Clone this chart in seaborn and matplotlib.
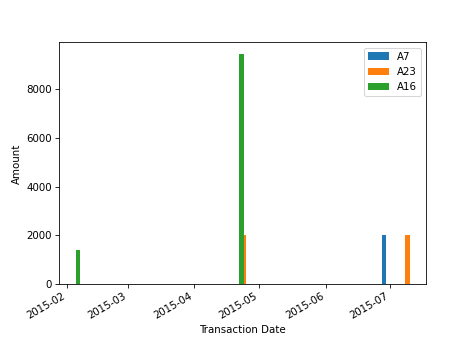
import pandas as pd
import seaborn as sns
import numpy as np
import matplotlib
matplotlib.use('Agg')
import matplotlib.pyplot as plt
import matplotlib.dates as mdates

# data
series = ['A7', 'A23', 'A16']
a7_dates = ['2015-06-27']
a7_amounts = [2000]
a23_dates = ['2015-04-23', '2015-07-08']
a23_amounts = [2000, 2000]
a16_dates = ['2015-02-05', '2015-04-22']
a16_amounts = [1400, 9450]

# plain matplotlib look, seaborn only for the palette
sns.reset_defaults()
plt.rcParams['font.family'] = ['DejaVu Sans']
colors = sns.color_palette('tab10', 3)

fig, ax = plt.subplots(figsize=(6.4, 4.8), dpi=74)
for name, d, a, c in zip(series,
                         [a7_dates, a23_dates, a16_dates],
                         [a7_amounts, a23_amounts, a16_amounts],
                         colors):
    ax.bar(pd.to_datetime(d), a, width=2, align='edge', color=c,
           linewidth=0, label=name)

ax.xaxis.set_major_locator(mdates.MonthLocator())
ax.xaxis.set_major_formatter(mdates.DateFormatter('%Y-%m'))
ax.set_xlabel('Transaction Date')
ax.set_ylabel('Amount')
ax.legend(loc='upper right')
fig.autofmt_xdate()
fig.savefig('out.png', dpi=74)
